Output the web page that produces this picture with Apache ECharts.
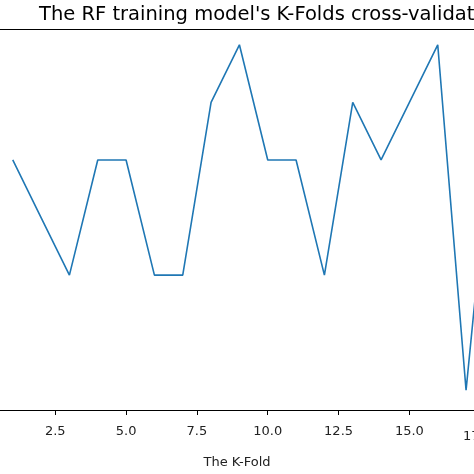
<!DOCTYPE html>
<html><head><meta charset="utf-8">
<script src="https://cdn.jsdelivr.net/npm/echarts@6/dist/echarts.min.js"></script>
<style>html,body{margin:0;padding:0;background:#fff}#c{width:474px;height:474px}</style>
</head><body><div id="c"></div>
<script>
var folds = [1,2,3,4,5,6,7,8,9,10,11,12,13,14,15,16,17,18];
var scores = [0.90,0.85,0.80,0.90,0.90,0.80,0.80,0.95,1.00,0.90,0.90,0.80,0.95,0.90,0.95,1.00,0.70,0.95];
var xTicks = [2.5,5.0,7.5,10.0,12.5,15.0,17.5];
var chart = echarts.init(document.getElementById('c'));
chart.setOption({
  animation:false,
  title:{text:"The RF training model's K-Folds cross-validation",left:34,top:0,
    textStyle:{fontFamily:'DejaVu Sans',fontSize:19.5,fontWeight:'normal',color:'#000'}},
  grid:{left:0,right:0,top:29,bottom:59},
  xAxis:[{type:'value',min:0.55,max:17.28,
    name:'The K-Fold',nameLocation:'middle',nameGap:46,
    nameTextStyle:{fontFamily:'DejaVu Sans',fontSize:13,color:'#222'},
    axisLine:{lineStyle:{color:'#000',width:1}},
    axisTick:{customValues:xTicks,length:5,lineStyle:{color:'#000'}},
    axisLabel:{customValues:xTicks,formatter:function(v){return v.toFixed(1);},fontFamily:'DejaVu Sans',fontSize:13,color:'#222',margin:15},
    splitLine:{show:false}},
   {type:'value',position:'top',min:0.55,max:17.28,axisLine:{show:true,lineStyle:{color:'#000',width:1}},axisTick:{show:false},axisLabel:{show:false},splitLine:{show:false}}],
  yAxis:{type:'value',min:0.68285,max:1.01372,show:false,splitLine:{show:false}},
  graphic:[{type:'text',left:463,top:430,style:{text:'17.5',font:'13px "DejaVu Sans"',fill:'#222'}}],
  series:[{type:'line',data:folds.map(function(f,i){return [f,scores[i]];}),
    symbol:'none',clip:true,lineStyle:{color:'#1f77b4',width:1.6}}]
});
</script></body></html>
